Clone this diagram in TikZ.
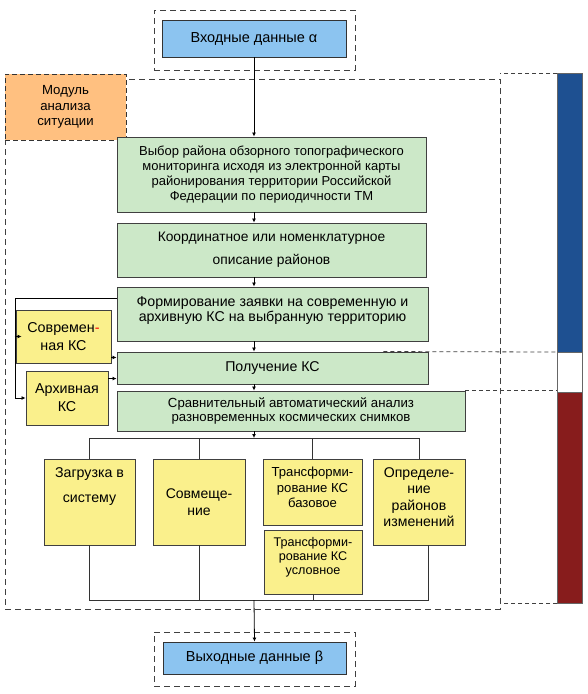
\documentclass[tikz,border=0pt]{standalone}
\usepackage{fontspec}
\setmainfont{Liberation Sans}
\usetikzlibrary{positioning,arrows.meta,calc}
\definecolor{inblue}{RGB}{140,196,240}
\definecolor{paleg}{RGB}{204,232,200}
\definecolor{paley}{RGB}{250,240,140}
\definecolor{peach}{RGB}{255,192,128}
\definecolor{barblue}{RGB}{30,80,145}
\definecolor{barred}{RGB}{135,28,28}
\tikzset{
    inbox/.style={rectangle,draw=black!80,line width=0.9pt,fill=inblue,inner sep=2pt,font=\fontsize{14.5}{17}\selectfont},
    frame/.style={rectangle,draw=black!75,line width=0.8pt,dash pattern=on 6pt off 4pt},
    link/.style={draw=black!75,line width=0.8pt,dash pattern=on 4pt off 3pt},
    modbox/.style={rectangle,draw=black!80,line width=0.8pt,dash pattern=on 5pt off 3pt,fill=peach,align=center,font=\fontsize{13.2}{15.5}\selectfont},
    gbox/.style={rectangle,draw=black!75,line width=0.9pt,fill=paleg,align=center,inner sep=2pt},
    ybox/.style={rectangle,draw=black!75,line width=0.9pt,fill=paley,align=center,inner sep=2pt},
    barpart/.style={rectangle,draw=black!60,line width=0.4pt,inner sep=0pt,outer sep=0pt,minimum width=25pt},
    arr/.style={-{Latex[length=4pt,width=4pt]},line width=0.8pt},
    bus/.style={line width=0.8pt,draw=black!80},
}
\begin{document}
\begin{tikzpicture}[x=1pt,y=-1pt]
\useasboundingbox (0,0) rectangle (588,694);
% input
\node[frame,minimum width=201pt,minimum height=60pt] (inframe) at (254.5,40) {};
\node[inbox,minimum width=184pt,minimum height=37pt] (inp) at (254,38.5) {Входные данные α};
% module frame and side bar
\node[frame,minimum width=495pt,minimum height=530pt] (main) at (252.5,344) {};
\node[modbox,minimum width=121pt,minimum height=66pt] (mod) at (65.5,107) {Модуль\\анализа\\ситуации};
\node[barpart,fill=barblue,minimum height=279pt,anchor=north west] (barb) at (557,73) {};
\node[barpart,fill=white,minimum height=40pt,anchor=north] (barw) at (barb.south) {};
\node[barpart,fill=barred,minimum height=211pt,anchor=north] (barr) at (barw.south) {};
\draw[link] (barb.north west) -- ++(-57,0);
\draw[link] (barr.south west) -- ++(-57,0);
% main steps
\node[gbox,minimum width=309pt,minimum height=75pt,font=\fontsize{13}{14.8}\selectfont] (g1) at (271.5,174.5)
    {Выбор района обзорного топографического\\мониторинга исходя из электронной карты\\районирования территории Российской\\Федерации по периодичности ТМ};
\node[gbox,minimum width=309pt,minimum height=54pt,font=\fontsize{13.8}{23}\selectfont] (g2) at (271.5,250)
    {Координатное или номенклатурное\\описание районов};
\node[gbox,minimum width=311pt,minimum height=54pt,font=\fontsize{14.2}{15}\selectfont] (g3) at (272.5,314)
    {Формирование заявки на современную и\\архивную КС на выбранную территорию\\[-6pt]};
\node[gbox,minimum width=311pt,minimum height=32pt,font=\fontsize{14.2}{15}\selectfont] (g4) at (272.5,368) {Получение КС};
\node[gbox,minimum width=348pt,minimum height=40pt,font=\fontsize{13.2}{14.3}\selectfont] (g5) at (291,411)
    {Сравнительный автоматический анализ\\разновременных космических снимков};
% images
\node[ybox,minimum width=95pt,minimum height=53pt,font=\fontsize{14.3}{18}\selectfont] (sovr) at (63.5,336.5)
    {Современ{\color{red}-}\\ная КС};
\node[ybox,minimum width=82pt,minimum height=54pt,font=\fontsize{14.3}{18}\selectfont] (arch) at (67,398) {Архивная\\КС};
% sub-steps
\node[ybox,minimum width=91pt,minimum height=86pt,font=\fontsize{14.2}{25}\selectfont] (y1) at (89.5,502) {Загрузка в\\систему\\[8pt]};
\node[ybox,minimum width=92pt,minimum height=86pt,font=\fontsize{14}{17}\selectfont] (y2) at (199,502) {Совмеще-\\ние};
\node[ybox,minimum width=99pt,minimum height=66pt,font=\fontsize{13.1}{15.5}\selectfont] (y3) at (312.5,492)
    {Трансформи-\\рование КС\\базовое\\[-6.5pt]};
\node[ybox,minimum width=98pt,minimum height=64pt,font=\fontsize{12.6}{14}\selectfont] (y4) at (313,562)
    {Трансформи-\\рование КС\\условное\\[-2pt]};
\node[ybox,minimum width=92pt,minimum height=86pt,font=\fontsize{14.1}{16.5}\selectfont] (y5) at (419,502)
    {Определе-\\ние\\районов\\изменений\\[-6.5pt]};
% output
\node[frame,minimum width=201pt,minimum height=54pt] (outframe) at (254.5,659) {};
\node[inbox,minimum width=183pt,minimum height=32pt] (out) at (254.5,658) {Выходные данные β};
% flow
\draw[arr] (inp.south) -- (inp.south |- g1.north);
\draw[arr] (g1.south -| inp.south) -- (g2.north -| inp.south);
\draw[arr] (g2.south -| inp.south) -- (g3.north -| inp.south);
\draw[arr] (g3.south -| inp.south) -- (g4.north -| inp.south);
\draw[arr] (g4.south -| inp.south) -- (g5.north -| inp.south);
% request to archives
\draw[arr] ([yshift=16pt]g3.west) -| (sovr.west |- arch.west) -- (arch.west);
\draw[arr] ([xshift=-1pt]sovr.west) -- ([xshift=6pt]sovr.west);
\coordinate (s1) at ([yshift=6pt]sovr.south east);
\coordinate (a1) at ([yshift=-8pt]arch.north east);
\draw[arr] (s1) -- (s1 -| g4.west);
\draw[arr] (a1) -- (a1 -| g4.west);
% links to bar
\draw[link] ([xshift=-45pt]g4.north east) -- (barw.north west);
\draw[link] (g5.north east) -- (g5.north east -| barw.south west);
% branch buses
\coordinate (bt) at (254,438);
\coordinate (bb) at (254,600);
\coordinate (y5dn) at ([xshift=9pt]y5.south);
\draw[arr] (g5.south -| bt) -- (bt);
\draw[bus] (y1.north) -- (y1.north |- bt) -- (y5.north |- bt) -- (y5.north);
\draw[bus] (y2.north) -- (y2.north |- bt);
\draw[bus] (y3.north) -- (y3.north |- bt);
\draw[bus] (y1.south) -- (y1.south |- bb) -- (y5dn |- bb) -- (y5dn);
\draw[bus] (y2.south) -- (y2.south |- bb);
\draw[bus] (y4.south) -- (y4.south |- bb);
\draw[arr] (bb) -- (out.north);
\end{tikzpicture}
\end{document}
